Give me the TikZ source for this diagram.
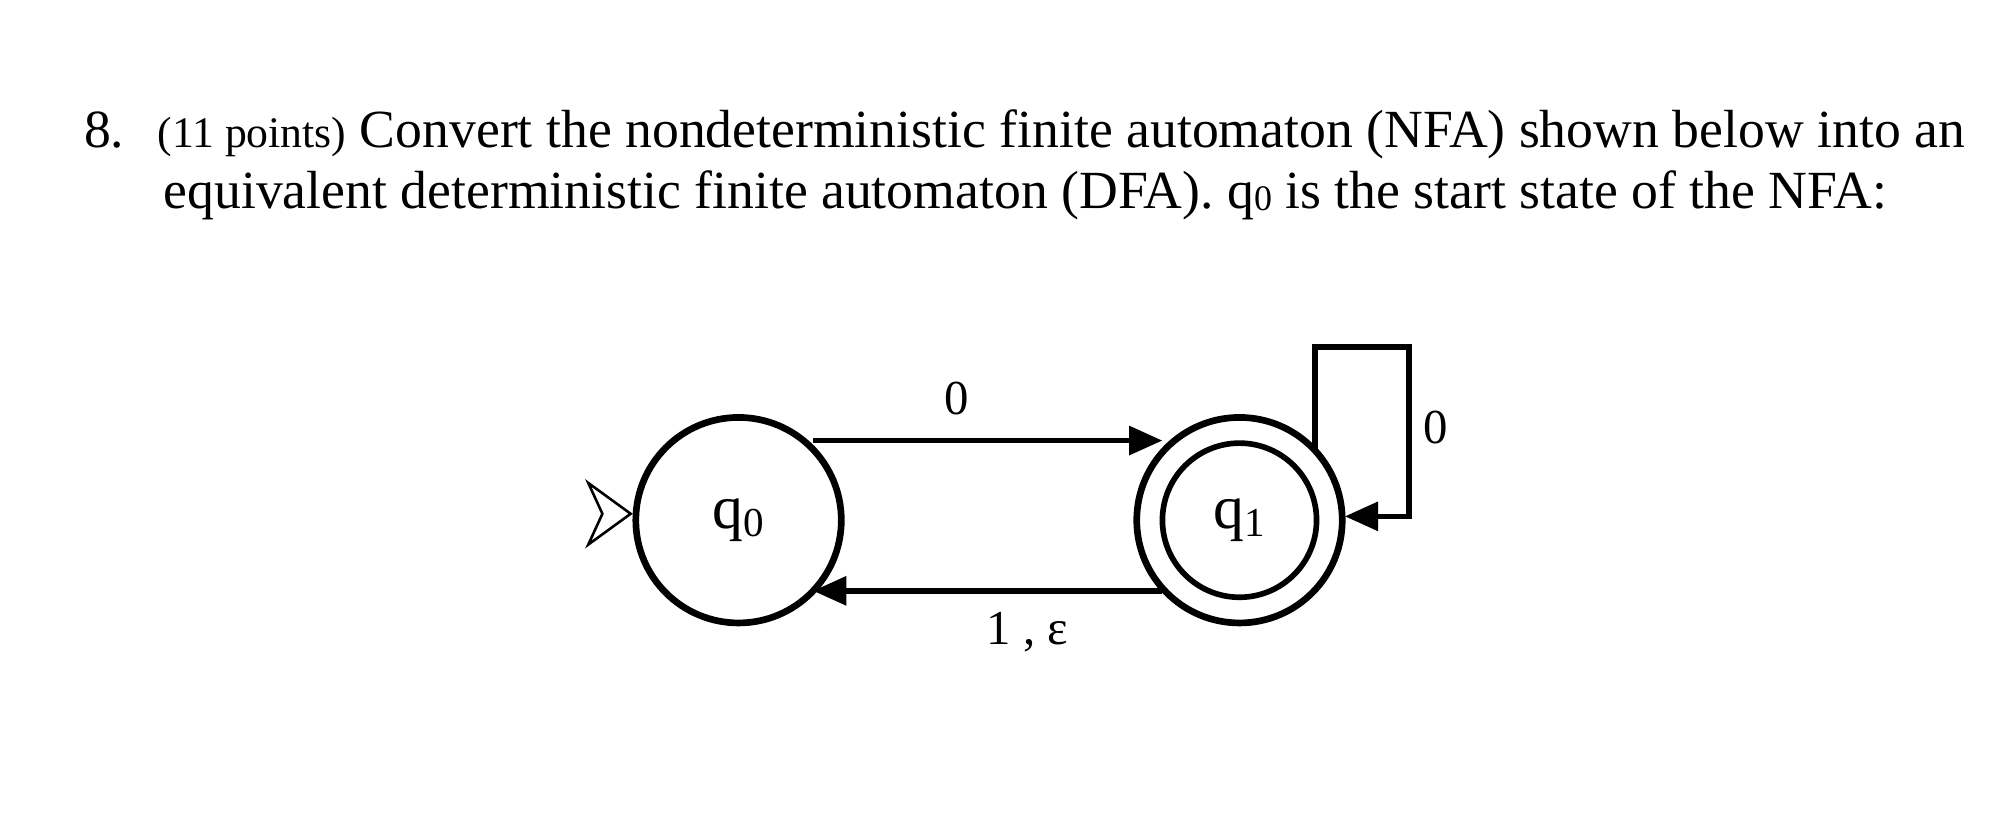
\documentclass[tikz,border=0pt]{standalone}
\usepackage{fontspec}
\setmainfont{Liberation Serif}
\usetikzlibrary{arrows.meta}
\begin{document}
\begin{tikzpicture}[x=0.5pt,y=-0.5pt,
  st/.style={circle,draw,line width=2.6pt,minimum size=80pt,inner sep=0pt,font=\fontsize{24}{24}\selectfont},
  tr/.style={line width=2.2pt,-{Triangle[length=13pt,width=11pt]}},
  lab/.style={font=\fontsize{19}{19}\selectfont}]
\useasboundingbox (0,0) rectangle (1568,636);
\node[anchor=base west,inner sep=0pt,font=\fontsize{20.9}{21}\selectfont] (l1) at (65,115) {8.\hspace{13pt}{\fontsize{17}{17}\selectfont(11 points)} Convert the nondeterministic finite automaton (NFA) shown below into an};
\node[anchor=base west,inner sep=0pt,font=\fontsize{20.9}{21}\selectfont] (l2) at (127,162) {equivalent deterministic finite automaton (DFA). q\raisebox{-1pt}{\fontsize{14}{14}\selectfont 0} is the start state of the NFA:};
\node[st] (q0) at (575,405) {q\raisebox{-3pt}{\fontsize{16}{16}\selectfont 0}};
\node[st] (q1) at (965,405) {q\raisebox{-3pt}{\fontsize{16}{16}\selectfont 1}};
\node[circle,draw,line width=2.2pt,minimum size=60pt,inner sep=0pt] (q1i) at (q1) {};
\coordinate (a0) at (633,343);
\coordinate (a1) at (905,343);
\coordinate (b1) at (905,460);
\coordinate (b0) at (633,460);
\draw[tr] (a0) -- (a1);
\draw[tr] (b1) -- (b0);
\node[lab] (l0) at (745,310) {0};
\node[lab] (l1e) at (800,492) {1 , ε};
\coordinate (s0) at (1024,350);
\coordinate (s1) at (1024,270);
\coordinate (s2) at (1097,270);
\coordinate (s3) at (1097,402);
\coordinate (s4) at (1047,402);
\draw[tr] (s0) -- (s1) -- (s2) -- (s3) -- (s4);
\node[lab] (ls) at (1118,333) {0};
\draw[line width=1pt,line join=miter] (458,376) -- (491,400) -- (458,424) -- (469,400) -- cycle;
\end{tikzpicture}
\end{document}
